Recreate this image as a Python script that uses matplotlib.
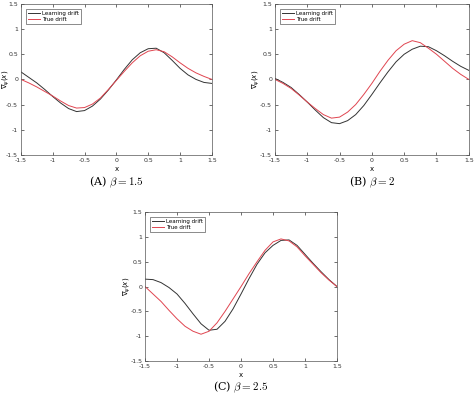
import matplotlib
matplotlib.use("Agg")
import matplotlib.pyplot as plt
import numpy as np

# x grid shared by all panels
x = np.arange(-1.5, 1.5001, 0.125)

# (A) beta = 1.5
learn_a = [0.15, 0.04, -0.07, -0.2, -0.34, -0.47, -0.58, -0.64, -0.62, -0.53, -0.39, -0.21, -0.01,
           0.2, 0.39, 0.53, 0.61, 0.62, 0.53, 0.38, 0.22, 0.09, 0.0, -0.06, -0.08]
true_a = [0.0, -0.07, -0.15, -0.24, -0.33, -0.43, -0.52, -0.57, -0.56, -0.49, -0.37, -0.2, -0.02,
          0.16, 0.33, 0.47, 0.56, 0.59, 0.55, 0.45, 0.33, 0.22, 0.13, 0.06, 0.0]

# (B) beta = 2
learn_b = [0.02, -0.06, -0.16, -0.3, -0.45, -0.61, -0.76, -0.86, -0.88, -0.82, -0.7, -0.52, -0.3,
           -0.07, 0.15, 0.35, 0.5, 0.6, 0.66, 0.65, 0.57, 0.47, 0.36, 0.26, 0.18]
true_b = [0.0, -0.08, -0.18, -0.31, -0.45, -0.58, -0.7, -0.77, -0.75, -0.65, -0.5, -0.3, -0.08,
          0.16, 0.38, 0.57, 0.7, 0.77, 0.73, 0.62, 0.5, 0.36, 0.22, 0.1, 0.0]

# (C) beta = 2.5
learn_c = [0.15, 0.14, 0.08, -0.02, -0.15, -0.34, -0.55, -0.75, -0.88, -0.86, -0.7, -0.45, -0.15,
           0.16, 0.45, 0.68, 0.83, 0.93, 0.94, 0.83, 0.65, 0.47, 0.3, 0.14, 0.0]
true_c = [0.0, -0.15, -0.3, -0.48, -0.65, -0.8, -0.9, -0.96, -0.9, -0.73, -0.5, -0.25, 0.0,
          0.26, 0.5, 0.73, 0.9, 0.96, 0.92, 0.8, 0.62, 0.45, 0.28, 0.13, 0.0]

captions = [r"(A) $\beta = 1.5$", r"(B) $\beta = 2$", r"(C) $\beta = 2.5$"]
ticks = [-1.5, -1, -0.5, 0, 0.5, 1, 1.5]
tick_labels = ["-1.5", "-1", "-0.5", "0", "0.5", "1", "1.5"]

fig = plt.figure(figsize=(4.74, 3.95), dpi=100)
positions = [
    [0.044, 0.608, 0.403, 0.382],
    [0.580, 0.608, 0.409, 0.382],
    [0.306, 0.086, 0.405, 0.377],
]
ylab_x = [-0.045, -0.065, -0.065]
series = [(learn_a, true_a), (learn_b, true_b), (learn_c, true_c)]

for pos, (lrn, tru), cap, lx in zip(positions, series, captions, ylab_x):
    ax = fig.add_axes(pos)
    ax.plot(x, lrn, color="#333333", lw=0.7, label="Learning drift")
    ax.plot(x, tru, color="#e04550", lw=0.7, label="True drift")
    ax.set_xlim(-1.5, 1.5)
    ax.set_ylim(-1.5, 1.5)
    ax.set_xticks(ticks)
    ax.set_xticklabels(tick_labels)
    ax.set_yticks(ticks)
    ax.set_yticklabels(tick_labels)
    ax.tick_params(direction="in", length=2, width=0.5, labelsize=4.5,
                   colors="#333333", top=True, right=True, pad=2)
    for s in ax.spines.values():
        s.set_linewidth(0.5)
        s.set_color("#555555")
    ax.set_xlabel("x", fontsize=5, labelpad=2.5)
    ax.set_ylabel(r"$\nabla_{\psi}(x)$", fontsize=5)
    ax.yaxis.set_label_coords(lx, 0.5)
    leg = ax.legend(loc="upper left", fontsize=4, frameon=True, fancybox=False,
                    borderpad=0.35, handlelength=2.2, handletextpad=0.4,
                    labelspacing=0.15, borderaxespad=0.9)
    leg.get_frame().set_edgecolor("#333333")
    leg.get_frame().set_linewidth(0.5)
    ax.text(0.5, -0.18, cap, transform=ax.transAxes, ha="center", va="center",
            fontsize=8, family="serif", math_fontfamily="cm")

fig.savefig("out.png", dpi=100)
